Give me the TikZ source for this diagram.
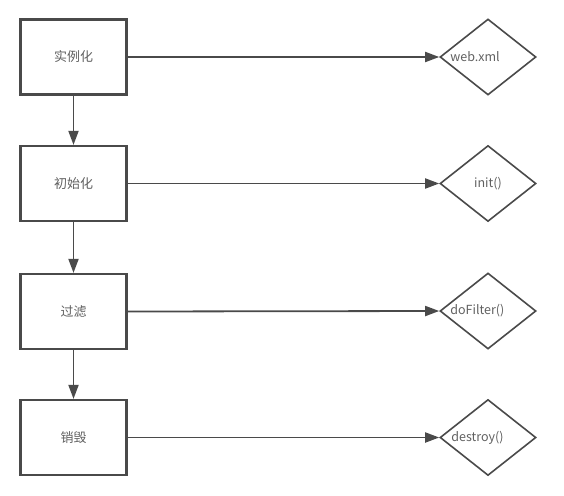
\documentclass[tikz,border=0pt]{standalone}
\usepackage{fontspec}
\setmainfont{Noto Sans CJK SC}
\usepackage{tikz}
\usetikzlibrary{arrows.meta}
\usetikzlibrary{shapes.geometric}
\usetikzlibrary{positioning}
\definecolor{linegray}{HTML}{4A4A4A}
\definecolor{textgray}{HTML}{606060}

\begin{document}
\begin{tikzpicture}[x=1pt,y=-1pt]
  \tikzset{stage/.style = {shape=rectangle,draw=linegray,line width=2.2pt,minimum width=106pt,minimum height=75pt,inner sep=0pt,text=textgray,font=\fontsize{13}{15}\selectfont}}
  \tikzset{method/.style = {shape=diamond,draw=linegray,line width=1.6pt,minimum width=96pt,minimum height=76pt,inner sep=0pt}}
  \tikzset{mtext/.style = {inner sep=0pt,text=textgray,font=\fontsize{12.5}{15}\selectfont}}
  \tikzset{edge/.style = {draw=linegray,line width=1.8pt,-{Triangle[length=14pt,width=10pt]}}}

  \useasboundingbox (0,0) rectangle (564,495);

	\node[stage] (A) at (73.5,57) {实例化};
	\node[stage] (B) at (73.5,183.5) {初始化};
		\node[stage] (C) at (73.5,311.5) {过滤};
			\node[stage] (D) at (73.5,437.5) {销毁};

	\node[method] (WA) at (488,57) {};
	\node[method] (WB) at (488,183.5) {};
	\node[method] (WC) at (488,311) {};
	\node[method] (WD) at (488,437.5) {};

	\node[mtext,anchor=west,right=11pt of WA.west] (TA) {web.xml};
	\node[mtext] (TB) at (WB) {init()};
	\node[mtext,anchor=west,right=11pt of WC.west] (TC) {doFilter()};
	\node[mtext,anchor=west,right=12pt of WD.west] (TD) {destroy()};

       \foreach \from/\to in {A/B, B/C, C/D}
    \path[edge] (\from) -- (\to);
       \foreach \from/\to in {A/WA, B/WB, C/WC, D/WD}
    \path[edge] (\from.east) -- (\to.west);
\end{tikzpicture}
\end{document}
